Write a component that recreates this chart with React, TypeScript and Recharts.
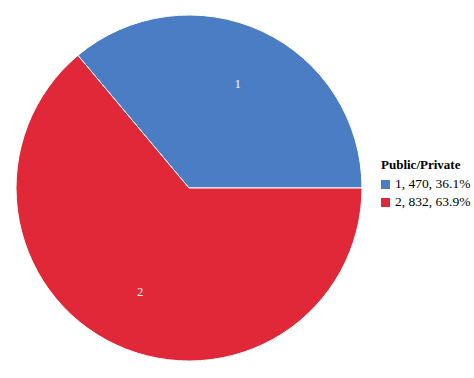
import React from "react";
import { PieChart, Pie, Cell, Legend } from "recharts";

const categories = ["1", "2"];
const values = [470, 832];
const percents = ["36.1%", "63.9%"];
const colors = ["#4a7dc3", "#e02838"];
const legendTitle = "Public/Private";

const data = categories.map((c, i) => ({ name: c, value: values[i], pct: percents[i] }));

const RADIAN = Math.PI / 180;
const renderLabel = (props: any) => {
  const { cx, cy, midAngle, outerRadius, name } = props;
  const r = outerRadius * 0.665;
  const x = cx + r * Math.cos(-midAngle * RADIAN);
  const y = cy + r * Math.sin(-midAngle * RADIAN);
  return (
    <text x={x} y={y} fill="#ffffff" textAnchor="middle" dominantBaseline="central" fontFamily="'Liberation Serif', serif" fontSize={12}>
      {name}
    </text>
  );
};

const LegendContent = () => (
  <div style={{ fontFamily: "'Liberation Serif', serif", color: "#000" }}>
    <div style={{ fontWeight: "bold", fontSize: 13, marginBottom: 2 }}>{legendTitle}</div>
    {data.map((d, i) => (
      <div key={d.name} style={{ display: "flex", alignItems: "center", fontSize: 13.5, height: 18 }}>
        <span style={{ display: "inline-block", width: 9, height: 9, background: colors[i], marginRight: 5 }} />
        <span>{`${d.name}, ${d.value}, ${d.pct}`}</span>
      </div>
    ))}
  </div>
);

export default function App() {
  return (
    <div style={{ position: "absolute", left: 0, top: 0, background: "#fff" }}>
      <PieChart width={474} height={378} margin={{ top: 0, right: 0, bottom: 0, left: 0 }}>
        <Pie
          data={data}
          dataKey="value"
          nameKey="name"
          cx={189}
          cy={188}
          outerRadius={173}
          startAngle={0}
          endAngle={360}
          stroke="#ffffff"
          strokeWidth={1}
          label={renderLabel}
          labelLine={false}
          isAnimationActive={false}
        >
          {data.map((d, i) => (
            <Cell key={d.name} fill={colors[i]} />
          ))}
        </Pie>
        <Legend content={<LegendContent />} wrapperStyle={{ position: "absolute", left: 381, top: 157, width: 100 }} />
      </PieChart>
    </div>
  );
}
